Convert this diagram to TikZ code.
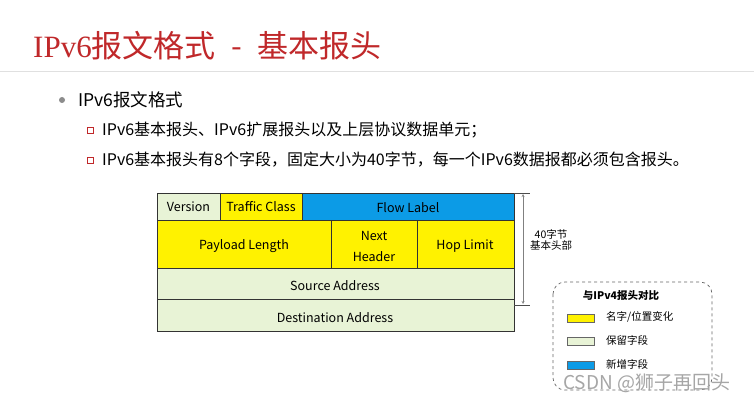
\documentclass[tikz,border=0pt]{standalone}
\usepackage{fontspec}
\setmainfont{Noto Sans CJK SC}
\newfontfamily\serifl{Liberation Serif}
\begin{document}
\begin{tikzpicture}[x=1pt,y=-1pt,
 cell/.style={draw=black!80,line width=0.8pt},
 lbl/.style={font=\fontsize{12.5}{14}\selectfont,inner sep=0pt},
 sml/.style={font=\fontsize{10.5}{12}\selectfont,inner sep=0pt},
 sw/.style={draw=black!60,line width=0.6pt}]
\definecolor{yel}{HTML}{FFF200}
\definecolor{grn}{HTML}{E8F3D6}
\definecolor{blu}{HTML}{0C9BE6}
\definecolor{ttl}{HTML}{C0282A}
\useasboundingbox[fill=white] (0,0) rectangle (754,401);
\node[anchor=west,text=ttl,font=\fontsize{31}{34}\selectfont,inner sep=0pt] (title) at (33,46) {{\serifl IPv6}报文格式\hspace{0.5em}-\hspace{0.5em}基本报头};
\draw[black!12,line width=1pt] (0,72) -- (754,72);
\fill[black!45] (62,100) circle (3);
\node[anchor=west,font=\fontsize{17.5}{20}\selectfont,inner sep=0pt] (b1) at (78,100) {IPv6报文格式};
\draw[ttl,line width=0.7pt] (87,127) rectangle (93,133);
\draw[ttl,line width=0.7pt] (87,157) rectangle (93,163);
\node[anchor=west,font=\fontsize{16}{18}\selectfont,inner sep=0pt] (b2) at (102,130) {IPv6基本报头、IPv6扩展报头以及上层协议数据单元；};
\node[anchor=west,font=\fontsize{16}{18}\selectfont,inner sep=0pt] (b3) at (102,160) {IPv6基本报头有8个字段，固定大小为40字节，每一个IPv6数据报都必须包含报头。};
% table
\draw[cell,fill=grn] (157,193) rectangle (220,220); \node[lbl] (ver) at (188.5,206.5) {Version};
\draw[cell,fill=yel] (220,193) rectangle (302,220); \node[lbl] (tc) at (261,206.5) {Traffic Class};
\draw[cell,fill=blu] (302,193) rectangle (514,220); \node[lbl] (fl) at (408,208) {Flow Label};
\draw[cell,fill=yel] (157,220) rectangle (331,268); \node[lbl] (pl) at (244,246) {Payload Length};
\draw[cell,fill=yel] (331,220) rectangle (417,268); \node[lbl,align=center,font=\fontsize{12.5}{21}\selectfont] (nh) at (374,246) {Next\\Header};
\draw[cell,fill=yel] (417,220) rectangle (514,268); \node[lbl] (hl) at (465,246) {Hop Limit};
\draw[cell,fill=grn] (157,268) rectangle (514,299); \node[lbl] (sa) at (335,286) {Source Address};
\draw[cell,fill=grn] (157,299) rectangle (514,331); \node[lbl] (da) at (335,318) {Destination Address};
% dimension
\coordinate (t1) at (514,193); \coordinate (t2) at (530,193);
\coordinate (u1) at (514,305); \coordinate (u2) at (530,305);
\draw[black!70] (t1) -- (t2); \draw[black!70] (u1) -- (u2);
\coordinate (a1) at (523,194); \coordinate (a2) at (523,304);
\draw[black!50,<->,>=stealth] (a1) -- (a2);
\node[sml,align=center,font=\fontsize{10.5}{11.5}\selectfont] (dim) at (551,240) {40字节\\基本头部};
% legend
\draw[black!60,dashed,rounded corners=12pt,line width=0.7pt] (553,282) rectangle (712,390);
\node[sml,font=\fontsize{10.5}{12}\selectfont\bfseries] (lt) at (621,296) {与IPv4报头对比};
\draw[sw,fill=yel] (567,314) rectangle (594,322); \node[anchor=west,sml] (l1) at (606,317) {名字/位置变化};
\draw[sw,fill=grn] (567,337) rectangle (594,345); \node[anchor=west,sml] (l2) at (606,340) {保留字段};
\draw[sw,fill=blu] (567,361) rectangle (594,369); \node[anchor=west,sml] (l3) at (606,364) {新增字段};
\node[anchor=west,text=black!35,font=\fontsize{19}{21}\selectfont,inner sep=0pt] (wm) at (563,383) {CSDN @狮子再回头};
\end{tikzpicture}
\end{document}
